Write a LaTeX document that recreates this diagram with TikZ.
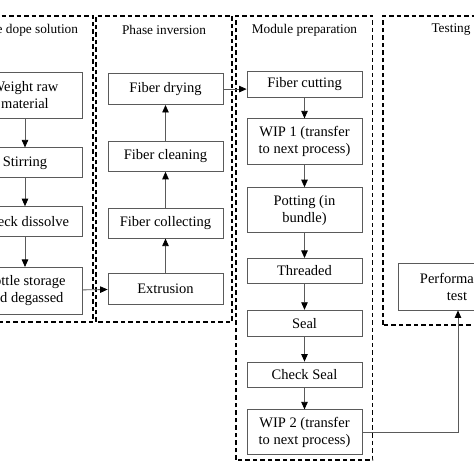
\documentclass[tikz,border=0pt]{standalone}
\usepackage{fontspec}
\setmainfont{Liberation Serif}
\usetikzlibrary{arrows.meta,positioning}
\definecolor{fpLine}{HTML}{5A5A5A}
\tikzset{
  fpbox/.style={
    draw=fpLine, line width=0.8pt, align=center, inner sep=2pt,
    font=\fontsize{14.5}{17}\selectfont, minimum height=30pt
  },
  dopebox/.style={fpbox, minimum width=114pt},
  phasebox/.style={fpbox, minimum width=115pt},
  modbox/.style={fpbox, minimum width=115pt, minimum height=26pt},
  stage/.style={draw=black, line width=1.3pt, dash pattern=on 4.5pt off 3pt},
  stagetitle/.style={font=\fontsize{13.3}{15}\selectfont},
  flow/.style={-{Triangle[length=7.5pt,width=6.5pt,color=black]}, line width=0.8pt, fpLine}
}
\begin{document}
\begin{tikzpicture}[x=1pt, y=1pt]
  \useasboundingbox (0,0) rectangle (474,474);
  \clip (0,0) rectangle (474,474);
  \fill[white] (0,0) rectangle (474,474);

  % stage frames
  \draw[stage] (-60,152) rectangle (93,458);
  \draw[stage] (96,152) rectangle (232,458);
  \draw[stage] (236,14) rectangle (372.5,458);
  \draw[stage] (383,149) rectangle (519,458);
  \node[stagetitle] (tdope)  at (20,444)    {Prepare dope solution};
  \node[stagetitle] (tphase) at (164,444)   {Phase inversion};
  \node[stagetitle] (tmod)   at (304.5,444) {Module preparation};
  \node[stagetitle] (ttest)  at (451,444)   {Testing};

  % dope solution
  \node[dopebox, minimum height=46pt] (weigh) at (25,379) {Weight raw\\material};
  \node[dopebox, below=29pt of weigh] (stir) {Stirring};
  \node[dopebox, below=28pt of stir] (dissolve) {Check dissolve};
  \node[dopebox, minimum height=47pt, below=30pt of dissolve] (bottle) {Bottle storage\\and degassed};

  % phase inversion
  \node[phasebox, minimum height=31pt] (extr) at (165.5,185.5) {Extrusion};
  \node[phasebox, above=34pt of extr] (collect) {Fiber collecting};
  \node[phasebox, above=36pt of collect] (clean) {Fiber cleaning};
  \node[phasebox, minimum height=31pt, above=36pt of clean] (dry) {Fiber drying};

  % module preparation
  \node[modbox] (cut) at (304.5,390) {Fiber cutting};
  \node[modbox, minimum height=46pt, below=21pt of cut] (wip1) {WIP 1 (transfer\\to next process)};
  \node[modbox, minimum height=45pt, below=22pt of wip1] (pot) {Potting (in\\bundle)};
  \node[modbox, minimum height=25pt, below=25pt of pot] (thread) {Threaded};
  \node[modbox, below=26pt of thread] (seal) {Seal};
  \node[modbox, minimum height=25pt, below=25pt of seal] (chk) {Check Seal};
  \node[modbox, minimum height=45pt, below=22pt of chk] (wip2) {WIP 2 (transfer\\to next process)};

  % testing
  \node[fpbox, minimum width=118pt, minimum height=47pt] (perf) at (457,187.5) {Performance\\test};

  % connectors
  \draw[flow] (weigh) -- (stir);
  \draw[flow] (stir) -- (dissolve);
  \draw[flow] (dissolve) -- (bottle);
  \draw[flow] (bottle) -- (extr);
  \draw[flow] (extr) -- (collect);
  \draw[flow] (collect) -- (clean);
  \draw[flow] (clean) -- (dry);
  \draw[flow] (dry.east) -- (dry.east -| cut.west);
  \draw[flow] (cut) -- (wip1);
  \draw[flow] (wip1) -- (pot);
  \draw[flow] (pot) -- (thread);
  \draw[flow] (thread) -- (seal);
  \draw[flow] (seal) -- (chk);
  \draw[flow] (chk) -- (wip2);
  \draw[flow] (wip2.east) -| ([xshift=1pt]perf.south);
\end{tikzpicture}
\end{document}
